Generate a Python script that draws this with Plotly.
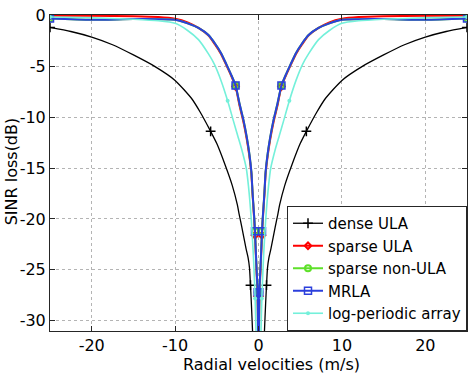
import plotly.graph_objects as go

# ---------------- data ----------------
# curves are symmetric in radial velocity; half-curves listed for v >= 0
black_v = [0, 0.5, 0.6, 0.72, 0.85, 0.96, 1.08, 1.25, 1.5, 2.0, 2.33, 2.54, 3.15, 4.0, 5.0,
           5.74, 7.0, 8.0, 10.0, 12.5, 15.0, 17.5, 20.0, 22.5, 25.0]
black_db = [-60, -38, -34, -30.9, -28.4, -26.5, -24.8, -23.8, -22.9, -20.8, -19.5, -18.6, -16.7,
            -14.7, -12.6, -11.4, -9.5, -8.2, -6.4, -5.0, -3.9, -2.9, -2.15, -1.6, -1.2]

sparse_v = [0, 0.05, 0.1, 0.2, 0.3, 0.42, 0.5, 0.6, 0.72, 0.85, 1.1, 1.4, 1.8, 2.27, 2.75, 3.3,
            3.86, 4.5, 5.2, 6.0, 7.2, 8.5, 10.0, 12.0, 15.0, 20.0, 25.0]
sparse_ula_db = [-45, -33, -27.6, -25.8, -23.9, -21.6, -20.3, -19.0, -17.5, -15.6, -13.8, -12.2,
                 -10.5, -8.9, -7.0, -5.9, -4.9, -3.8, -2.9, -2.0, -1.25, -0.7, -0.35, -0.18,
                 -0.1, -0.06, -0.05]
sparse_non_ula_db = [-45, -32.5, -27.2, -25.4, -23.6, -21.2, -20.0, -18.8, -17.3, -15.4, -13.6,
                     -12.0, -10.3, -8.7, -6.9, -5.8, -4.8, -3.7, -2.8, -1.95, -1.25, -0.8, -0.45,
                     -0.4, -0.38, -0.45, -0.32]
mrla_db = [-45, -32.5, -27.2, -25.4, -23.6, -21.2, -20.0, -18.8, -17.3, -15.4, -13.6, -12.0,
           -10.3, -8.7, -6.9, -5.8, -4.8, -3.7, -2.8, -1.95, -1.25, -0.8, -0.45, -0.4, -0.38,
           -0.45, -0.32]

logp_v = [0, 0.2, 0.3, 0.4, 0.6, 0.87, 1.2, 1.47, 2.0, 2.5, 3.0, 3.7, 4.5, 5.3, 6.0, 7.2, 8.5,
          10.0, 12.0, 15.0, 20.0, 25.0]
logp_db = [-50, -35, -31, -27.8, -23.8, -20.0, -16.8, -15.0, -13.2, -11.8, -10.4, -8.4, -6.4,
           -4.8, -3.8, -2.4, -1.5, -0.8, -0.55, -0.4, -0.25, -0.18]

# marker positions (half, v >= 0)
black_mk_v = [0.96, 5.74, 25.0]
black_mk_db = [-26.5, -11.4, -1.2]
sparse_mk_v = [0.1, 0.42, 2.75, 25.0]
sparse_ula_mk_db = [-27.6, -21.6, -7.0, -0.05]
sparse_non_ula_mk_db = [-27.2, -21.2, -6.9, -0.32]
mrla_mk_db = [-27.2, -21.2, -6.9, -0.32]
logp_mk_v = [0.4, 3.7, 25.0]
logp_mk_db = [-27.8, -8.4, -0.18]

x_ticks = [-20, -10, 0, 10, 20]
x_tick_text = ["-20", "-10", "0", "10", "20"]
y_ticks = [0, -5, -10, -15, -20, -25, -30]
y_tick_text = ["0", "-5", "-10", "-15", "-20", "-25", "-30"]

names = ["dense ULA", "sparse ULA", "sparse non-ULA", "MRLA", "log-periodic array"]


def mirror(v, y):
    xs = [-a for a in reversed(v)] + list(v[1:] if v[0] == 0 else v)
    ys = list(reversed(y)) + list(y[1:] if v[0] == 0 else y)
    return xs, ys


FONT = "DejaVu Sans"
BLACK, RED, GREEN, BLUE, CYAN = "#000000", "#ff0000", "#5ee02a", "#2b3fdc", "#74f0da"
series = [
    (black_v, black_db, black_mk_v, black_mk_db, BLACK, 1.3,
     dict(symbol="cross-thin-open", size=7, color=BLACK, line=dict(width=1.5, color=BLACK))),
    (sparse_v, sparse_ula_db, sparse_mk_v, sparse_ula_mk_db, RED, 2.0,
     dict(symbol="diamond-open", size=5, color=RED, line=dict(width=2, color=RED))),
    (sparse_v, sparse_non_ula_db, sparse_mk_v, sparse_non_ula_mk_db, GREEN, 2.0,
     dict(symbol="circle-open", size=6, color=GREEN, line=dict(width=2, color=GREEN))),
    (sparse_v, mrla_db, sparse_mk_v, mrla_mk_db, BLUE, 2.0,
     dict(symbol="square-open", size=7, color=BLUE, line=dict(width=1.5, color=BLUE))),
    (logp_v, logp_db, logp_mk_v, logp_mk_db, CYAN, 1.6,
     dict(symbol="circle", size=4, color=CYAN, line=dict(width=0))),
]

fig = go.Figure()
for v, db, mv, mdb, col, lw, mk in series:
    xs, ys = mirror(v, db)
    fig.add_trace(go.Scatter(x=xs, y=ys, mode="lines", showlegend=False,
                             line=dict(color=col, width=lw, shape="spline", smoothing=0.6),
                             hoverinfo="skip"))
    mx, my = mirror(mv, mdb)
    fig.add_trace(go.Scatter(x=mx, y=my, mode="markers", showlegend=False,
                             marker=mk, hoverinfo="skip"))

for (v, db, mv, mdb, col, lw, mk), nm in zip(series, names):
    fig.add_trace(go.Scatter(x=[None], y=[None], mode="lines+markers", name=nm,
                             line=dict(color=col, width=lw), marker=mk))

axis_common = dict(
    showline=True, linecolor="#262626", linewidth=1, mirror="ticks",
    ticks="inside", ticklen=5, tickcolor="#262626",
    showgrid=True, gridcolor="#b4b4b4", griddash="dot", gridwidth=1,
    zeroline=False, tickfont=dict(family=FONT, size=16, color="#000000"),
    ticklabeloverflow="allow",
)

fig.update_layout(
    width=474, height=376,
    margin=dict(l=50, r=6, t=9, b=45),
    paper_bgcolor="white", plot_bgcolor="white",
    xaxis=dict(range=[-25, 25], tickvals=x_ticks, ticktext=x_tick_text, **axis_common),
    yaxis=dict(range=[-31, 0.02], tickvals=y_ticks, ticktext=y_tick_text, **axis_common),
    legend=dict(x=1, xanchor="right", y=0, yanchor="bottom",
                bgcolor="white", bordercolor="#262626", borderwidth=1,
                font=dict(family=FONT, size=15, color="#000000"),
                itemwidth=30, tracegroupgap=0),
    annotations=[
        dict(text="Radial velocities (m/s)", xref="paper", yref="paper",
             x=0.531, y=-0.105, xanchor="center", yanchor="middle", showarrow=False,
             font=dict(family=FONT, size=16, color="#000000")),
        dict(text="SINR loss(dB)", xref="paper", yref="paper",
             x=-0.093, y=0.506, xanchor="center", yanchor="middle", showarrow=False,
             textangle=-90, font=dict(family=FONT, size=16, color="#000000")),
    ],
)

fig.write_html(
    "out.html",
    config={"displayModeBar": False},
    post_script="document.body.style.margin='0px';document.body.style.padding='0px';"
                "document.body.style.overflow='hidden';",
)
